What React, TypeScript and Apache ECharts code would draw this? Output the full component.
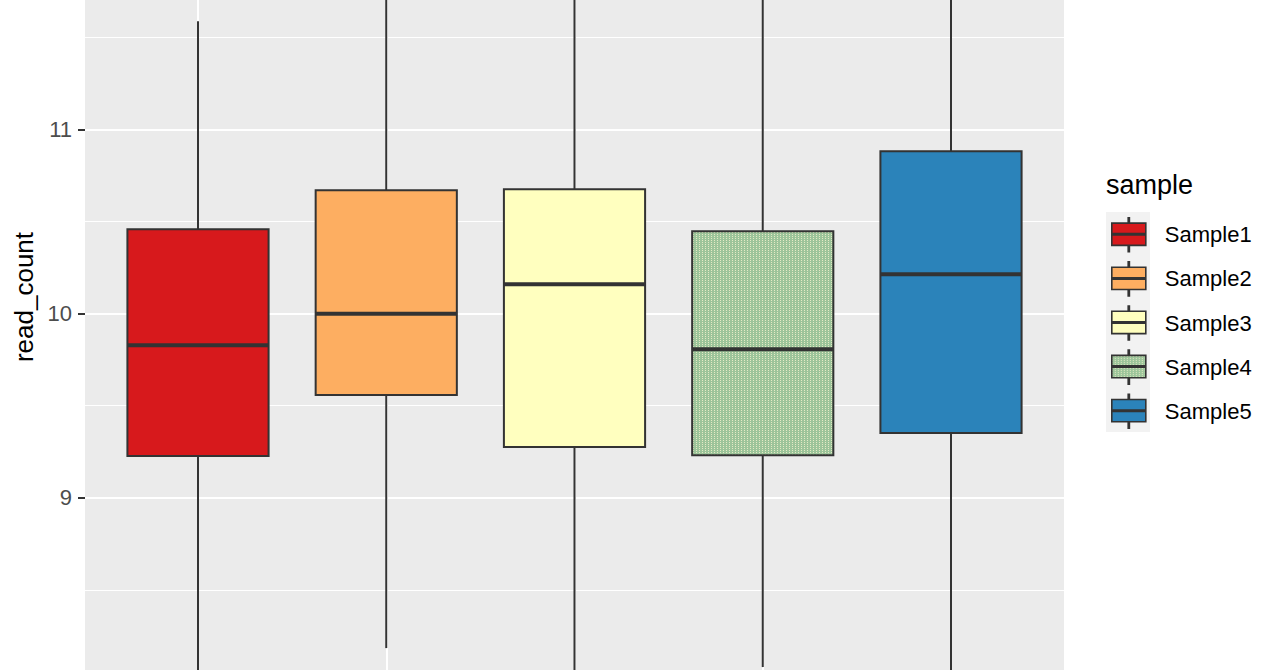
import { useEffect, useRef } from "react";
import * as echarts from "echarts";

// box statistics per sample
const categories = ["Sample1", "Sample2", "Sample3", "Sample4", "Sample5"];
const whiskerLow = [7.55, 8.184, 7.8, 8.081, 7.7];
const q1 = [9.226, 9.557, 9.275, 9.231, 9.351];
const medians = [9.828, 9.998, 10.159, 9.806, 10.213];
const q3 = [10.457, 10.669, 10.674, 10.447, 10.881];
const whiskerHigh = [11.586, 12.3, 12.2, 12.1, 12.6];
const fills = ["#D7191C", "#FDAE61", "#FFFFBF", "pattern", "#2B83BA"];

const yTicks = [8, 9, 10, 11, 12];

const FONT = "Liberation Sans, Arial, sans-serif";
const STROKE = "#333333";
const LEGEND_ICON =
  "path://M0,5.3H34V27.6H0Z M0,15.8H34V17.2H0Z M16.4,0H17.6V5.3H16.4Z M16.4,27.6H17.6V34H16.4Z";

const makePattern = () => {
  // dotted green fill of Sample4
  const c = document.createElement("canvas");
  c.width = 3;
  c.height = 2;
  const ctx = c.getContext("2d");
  if (ctx) {
    ctx.fillStyle = "#9CC49A";
    ctx.fillRect(0, 0, 3, 2);
    ctx.fillStyle = "#E4EAC4";
    ctx.fillRect(0, 0, 1, 1);
  }
  return { image: c, repeat: "repeat" } as any;
};

const App = () => {
  const chartRef = useRef<HTMLDivElement>(null);

  useEffect(() => {
    if (!chartRef.current) return;
    document.body.style.margin = "0";

    const chart = echarts.init(chartRef.current, undefined, { renderer: "svg" });
    const pattern = makePattern();
    const fillOf = (i: number) => (fills[i] === "pattern" ? pattern : fills[i]);

    const series = categories.map((name, i) => ({
      name,
      type: "custom" as const,
      xAxisIndex: 1,
      yAxisIndex: 1,
      itemStyle: { color: fills[i] === "pattern" ? "#A9CCA3" : fills[i] },
      encode: { x: 0, y: [1, 2, 3, 4, 5] },
      data: [[i, whiskerLow[i], q1[i], medians[i], q3[i], whiskerHigh[i]]],
      renderItem: (_params: any, api: any) => {
        const x = api.value(0);
        const cx = api.coord([x, api.value(3)])[0];
        const yLow = api.coord([x, api.value(1)])[1];
        const yQ1 = api.coord([x, api.value(2)])[1];
        const yMed = api.coord([x, api.value(3)])[1];
        const yQ3 = api.coord([x, api.value(4)])[1];
        const yHigh = api.coord([x, api.value(5)])[1];
        const w = api.size([1, 0])[0] * 0.75;
        return {
          type: "group",
          children: [
            {
              type: "line",
              shape: { x1: cx, y1: yQ3, x2: cx, y2: yHigh },
              style: { stroke: STROKE, lineWidth: 2 },
            },
            {
              type: "line",
              shape: { x1: cx, y1: yQ1, x2: cx, y2: yLow },
              style: { stroke: STROKE, lineWidth: 2 },
            },
            {
              type: "rect",
              shape: { x: cx - w / 2, y: yQ3, width: w, height: yQ1 - yQ3 },
              style: { fill: fillOf(i), stroke: STROKE, lineWidth: 2 },
            },
            {
              type: "line",
              shape: { x1: cx - w / 2, y1: yMed, x2: cx + w / 2, y2: yMed },
              style: { stroke: STROKE, lineWidth: 4 },
            },
          ],
        };
      },
    }));

    const option: any = {
      animation: false,
      title: {
        text: "sample",
        left: 1106,
        top: 171,
        padding: 0,
        textStyle: { fontFamily: FONT, fontSize: 27, fontWeight: "normal", color: "#000" },
      },
      legend: {
        orient: "vertical",
        left: 1111,
        top: 217,
        padding: 0,
        itemWidth: 34,
        itemHeight: 34,
        itemGap: 8.5,
        selectedMode: false,
        textStyle: { fontFamily: FONT, fontSize: 22, color: "#000", padding: [0, 0, 0, 14] },
        data: categories.map((name, i) => ({
          name,
          icon: LEGEND_ICON,
          itemStyle: { color: fillOf(i), borderColor: STROKE, borderWidth: 1.6 },
        })),
      },
      graphic: [
        {
          type: "rect",
          left: 1106,
          top: 212,
          z: -1,
          shape: { width: 44, height: 220 },
          style: { fill: "#F2F2F2" },
        },
      ],
      grid: [
        {
          left: 85,
          width: 979,
          top: -55,
          height: 737,
          show: true,
          backgroundColor: "#EBEBEB",
          borderWidth: 0,
          containLabel: false,
          outerBoundsMode: "none",
        },
        { left: 198, width: 753, top: -55, height: 737, show: false, containLabel: false, outerBoundsMode: "none" },
      ],
      xAxis: [
        { gridIndex: 0, type: "value", min: 0, max: 1, show: false },
        {
          gridIndex: 1,
          type: "category",
          data: categories,
          boundaryGap: false,
          axisLine: { show: false },
          axisTick: { show: false },
          axisLabel: { show: false },
          splitLine: { show: true, lineStyle: { color: "#FFFFFF", width: 2 } },
        },
      ],
      yAxis: [
        {
          gridIndex: 0,
          type: "value",
          min: yTicks[0],
          max: yTicks[yTicks.length - 1],
          interval: 1,
          name: "read_count",
          nameLocation: "middle",
          nameRotate: 90,
          nameGap: 46,
          nameTextStyle: { fontFamily: FONT, fontSize: 26, color: "#000", padding: [0, 0, 0, 33] },
          axisLine: { show: false },
          axisTick: { show: true, length: 7, lineStyle: { color: STROKE, width: 2 } },
          axisLabel: {
            fontFamily: FONT,
            fontSize: 22,
            color: "#4D4D4D",
            margin: 13,
            showMinLabel: false,
            showMaxLabel: false,
          },
          splitLine: { show: true, lineStyle: { color: "#FFFFFF", width: 2 } },
          minorTick: { show: false, splitNumber: 2 },
          minorSplitLine: { show: true, lineStyle: { color: "#FFFFFF", width: 1 } },
        },
        { gridIndex: 1, type: "value", min: 8, max: 12, show: false },
      ],
      series,
    };

    chart.setOption(option);

    return () => {
      chart.dispose();
    };
  }, []);

  return <div ref={chartRef} style={{ width: "1280px", height: "670px", overflow: "hidden" }} />;
};

export default App;
